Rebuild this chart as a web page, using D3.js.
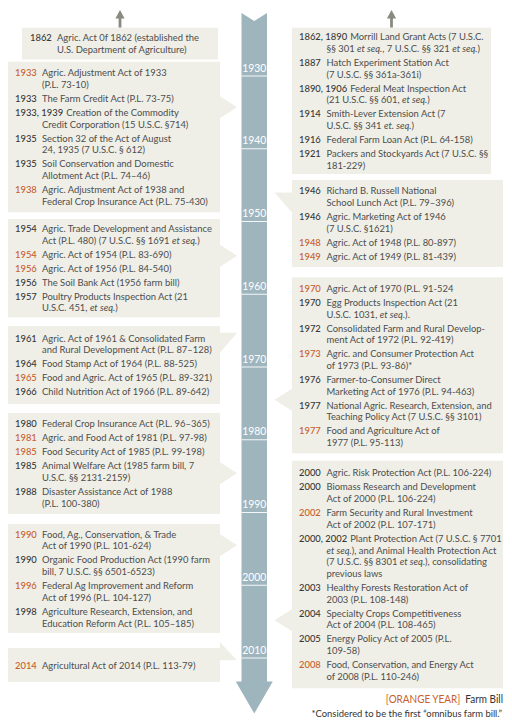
<!DOCTYPE html>
<html><head><meta charset="utf-8">
<script src="https://cdn.jsdelivr.net/npm/d3@7"></script>
<style>html,body{margin:0;padding:0;background:#fff;} svg{display:block;}</style>
</head><body>
<svg id="c" width="512" height="728"></svg>
<script>
// ---------------- DATA ----------------
const decades = [1930, 1940, 1950, 1960, 1970, 1980, 1990, 2000, 2010];

const leftBox1 = [
  {year: "1862", farmBill: false, lines: ["Agric. Act 0f 1862 (established the", "U.S. Department of Agriculture)"]}
];
const leftBox2 = [
  {year: "1933", farmBill: true,  lines: ["Agric. Adjustment Act of 1933", "(P.L. 73-10)"]},
  {year: "1933", farmBill: false, lines: ["The Farm Credit Act (P.L. 73-75)"]},
  {year: "1933, 1939", farmBill: false, lines: ["Creation of the Commodity", "Credit Corporation (15 U.S.C. §714)"]},
  {year: "1935", farmBill: false, lines: ["Section 32 of the Act of August", "24, 1935 (7 U.S.C. § 612)"]},
  {year: "1935", farmBill: false, lines: ["Soil Conservation and Domestic", "Allotment Act (P.L. 74–46)"]},
  {year: "1938", farmBill: true,  lines: ["Agric. Adjustment Act of 1938 and", "Federal Crop Insurance Act (P.L. 75-430)"]}
];
const leftBox3 = [
  {year: "1954", farmBill: false, lines: ["Agric. Trade Development and Assistance", "Act (P.L. 480) (7 U.S.C. §§ 1691 _et seq._)"]},
  {year: "1954", farmBill: true,  lines: ["Agric. Act of 1954 (P.L. 83-690)"]},
  {year: "1956", farmBill: true,  lines: ["Agric. Act of 1956 (P.L. 84-540)"]},
  {year: "1956", farmBill: false, lines: ["The Soil Bank Act (1956 farm bill)"]},
  {year: "1957", farmBill: false, lines: ["Poultry Products Inspection Act (21", "U.S.C. 451, _et seq._)"]}
];
const leftBox4 = [
  {year: "1961", farmBill: false, lines: ["Agric. Act of 1961 & Consolidated Farm", "and Rural Development Act (P.L. 87–128)"]},
  {year: "1964", farmBill: false, lines: ["Food Stamp Act of 1964 (P.L. 88-525)"]},
  {year: "1965", farmBill: true,  lines: ["Food and Agric. Act of 1965 (P.L. 89-321)"]},
  {year: "1966", farmBill: false, lines: ["Child Nutrition Act of 1966 (P.L. 89-642)"]}
];
const leftBox5 = [
  {year: "1980", farmBill: false, lines: ["Federal Crop Insurance Act (P.L. 96–365)"]},
  {year: "1981", farmBill: true,  lines: ["Agric. and Food Act of 1981 (P.L. 97-98)"]},
  {year: "1985", farmBill: true,  lines: ["Food Security Act of 1985 (P.L. 99-198)"]},
  {year: "1985", farmBill: false, lines: ["Animal Welfare Act (1985 farm bill, 7", "U.S.C. §§ 2131-2159)"]},
  {year: "1988", farmBill: false, lines: ["Disaster Assistance Act of 1988", "(P.L. 100-380)"]}
];
const leftBox6 = [
  {year: "1990", farmBill: true,  lines: ["Food, Ag., Conservation, & Trade", "Act of 1990 (P.L. 101-624)"]},
  {year: "1990", farmBill: false, lines: ["Organic Food Production Act (1990 farm", "bill, 7 U.S.C. §§ 6501-6523)"]},
  {year: "1996", farmBill: true,  lines: ["Federal Ag Improvement and Reform", "Act of 1996 (P.L. 104-127)"]},
  {year: "1998", farmBill: false, lines: ["Agriculture Research, Extension, and", "Education Reform Act (P.L. 105–185)"]}
];
const leftBox7 = [
  {year: "2014", farmBill: true,  lines: ["Agricultural Act of 2014 (P.L. 113-79)"]}
];

const rightBox1 = [
  {year: "1862, 1890", farmBill: false, lines: ["Morrill Land Grant Acts (7 U.S.C.", "§§ 301 _et seq._, 7 U.S.C. §§ 321 _et seq._)"]},
  {year: "1887", farmBill: false, lines: ["Hatch Experiment Station Act", "(7 U.S.C. §§ 361a-361i)"]},
  {year: "1890, 1906", farmBill: false, lines: ["Federal Meat Inspection Act", "(21 U.S.C. §§ 601, _et seq._)"]},
  {year: "1914", farmBill: false, lines: ["Smith-Lever Extension Act (7", "U.S.C. §§ 341 _et. seq._)"]},
  {year: "1916", farmBill: false, lines: ["Federal Farm Loan Act (P.L. 64-158)"]},
  {year: "1921", farmBill: false, lines: ["Packers and Stockyards Act (7 U.S.C. §§", "181-229)"]}
];
const rightBox2 = [
  {year: "1946", farmBill: false, lines: ["Richard B. Russell National", "School Lunch Act (P.L. 79–396)"]},
  {year: "1946", farmBill: false, lines: ["Agric. Marketing Act of 1946", "(7 U.S.C. §1621)"]},
  {year: "1948", farmBill: true,  lines: ["Agric. Act of 1948 (P.L. 80-897)"]},
  {year: "1949", farmBill: true,  lines: ["Agric. Act of 1949 (P.L. 81-439)"]}
];
const rightBox3 = [
  {year: "1970", farmBill: true,  lines: ["Agric. Act of 1970 (P.L. 91-524"]},
  {year: "1970", farmBill: false, lines: ["Egg Products Inspection Act (21", "U.S.C. 1031, _et seq._)."]},
  {year: "1972", farmBill: false, lines: ["Consolidated Farm and Rural Develop-", "ment Act of 1972 (P.L. 92-419)"]},
  {year: "1973", farmBill: true,  lines: ["Agric. and Consumer Protection Act", "of 1973 (P.L. 93-86)*"]},
  {year: "1976", farmBill: false, lines: ["Farmer-to-Consumer Direct", "Marketing Act of 1976 (P.L. 94-463)"]},
  {year: "1977", farmBill: false, lines: ["National Agric. Research, Extension, and", "Teaching Policy Act (7 U.S.C. §§ 3101)"]},
  {year: "1977", farmBill: true,  lines: ["Food and Agriculture Act of", "1977 (P.L. 95-113)"]}
];
const rightBox4 = [
  {year: "2000", farmBill: false, lines: ["Agric. Risk Protection Act (P.L. 106-224)"]},
  {year: "2000", farmBill: false, lines: ["Biomass Research and Development", "Act of 2000 (P.L. 106-224)"]},
  {year: "2002", farmBill: true,  lines: ["Farm Security and Rural Investment", "Act of 2002 (P.L. 107-171)"]},
  {year: "2000, 2002", farmBill: false, lines: ["Plant Protection Act (7 U.S.C. § 7701", "_et seq._), and Animal Health Protection Act", "(7 U.S.C. §§ 8301 _et seq._), consolidating", "previous laws"]},
  {year: "2003", farmBill: false, lines: ["Healthy Forests Restoration Act of", "2003 (P.L. 108-148)"]},
  {year: "2004", farmBill: false, lines: ["Specialty Crops Competitiveness", "Act of 2004 (P.L. 108-465)"]},
  {year: "2005", farmBill: false, lines: ["Energy Policy Act of 2005 (P.L.", "109-58)"]},
  {year: "2008", farmBill: true,  lines: ["Food, Conservation, and Energy Act", "of 2008 (P.L. 110-246)"]}
];

const legendKey = "[ORANGE YEAR]";
const legendLabel = "Farm Bill";
const footnote = "*Considered to be the first “omnibus farm bill.”";

// ---------------- LAYOUT ----------------
const leftFrames = [
  {x0: 22, x1: 218, top: 27.7, bottom: 59.5, yearX: 30, descX: 57, ptr: null, items: leftBox1},
  {x0: 8, x1: 220, top: 61.7, bottom: 212.3, yearX: 15, descX: 42, ptr: {at: 1934.3, shape: "mid"}, items: leftBox2},
  {x0: 8, x1: 220, top: 219, bottom: 317.3, yearX: 15, descX: 42, ptr: {at: 1954.7, shape: "mid"}, items: leftBox3},
  {x0: 8, x1: 220, top: 326, bottom: 404, yearX: 15, descX: 42, ptr: {at: 1965.3, shape: "top"}, items: leftBox4},
  {x0: 8, x1: 220, top: 413, bottom: 514, yearX: 15, descX: 42, ptr: {at: 1984.6, shape: "mid"}, items: leftBox5},
  {x0: 8, x1: 220, top: 524, bottom: 633, yearX: 15, descX: 42, ptr: {at: 1994.5, shape: "mid"}, items: leftBox6},
  {x0: 8, x1: 220, top: 648, bottom: 682, yearX: 15, descX: 42, ptr: {at: 2010.3, shape: "bottom"}, items: leftBox7}
];
const rightFrames = [
  {x0: 292, x1: 491, top: 27.7, bottom: 174, yearX: 299, descX: 326.5, ptr: null, items: rightBox1},
  {x0: 292, x1: 503, top: 180, bottom: 267, yearX: 299, descX: 326.5, ptr: {at: 1946, shape: "top"}, items: rightBox2},
  {x0: 292, x1: 503, top: 277.3, bottom: 453.3, yearX: 299, descX: 326.5, ptr: {at: 1974.5, shape: "mid"}, items: rightBox3},
  {x0: 292, x1: 503, top: 460.7, bottom: 688.3, yearX: 299, descX: 326.5, ptr: {at: 2004.8, shape: "mid"}, items: rightBox4}
];

const BOX = "#efefe7", BAR = "#9fb5bd", ORANGE = "#c8602c", YEARC = "#383838", DESCC = "#4d4d4d", ARROWC = "#8a8a82";
const FONT = "Lato, 'Open Sans', 'Liberation Sans', sans-serif";
const FS = 10.4, LH = 11.7, GAP = 2.3;

const svg = d3.select("#c");
const timeline = d3.scaleLinear().domain([1930, 2010]).range([76, 658]);

// calibrate horizontal condensing to match the reference's narrow face
const probe = svg.append("text").attr("font-family", FONT).attr("font-size", FS)
  .text("Agric. Trade Development and Assistance");
const SX = Math.min(1, 170 / probe.node().getComputedTextLength());
probe.remove();

function richText(g, str, x, y, opts) {
  const t = g.append("text")
    .attr("transform", `translate(${x},${y}) scale(${SX},1)`)
    .attr("font-family", FONT).attr("font-size", opts.size || FS)
    .attr("font-weight", opts.weight || 400)
    .attr("fill", opts.fill)
    .attr("text-anchor", opts.anchor || "start");
  str.split("_").forEach((seg, i) => {
    if (!seg) return;
    t.append("tspan").attr("font-style", i % 2 ? "italic" : "normal").text(seg);
  });
  return t;
}

// ---------------- TIMELINE BAR ----------------
const bx0 = 241.5, bx1 = 267, bxm = (bx0 + bx1) / 2;
const barTop = 13, notch = 21, headTop = 681.5, headTip = 713.5, headHalf = 18.5;
svg.append("path")
  .attr("d", d3.line()([
    [bx0, barTop], [bxm, notch], [bx1, barTop], [bx1, headTop], [bxm + headHalf, headTop],
    [bxm, headTip], [bxm - headHalf, headTop], [bx0, headTop]
  ]) + "Z")
  .attr("fill", BAR);

const axisG = svg.append("g");
axisG.selectAll("line").data(decades).join("line")
  .attr("x1", bx0).attr("x2", bx1)
  .attr("y1", d => timeline(d)).attr("y2", d => timeline(d))
  .attr("stroke", "#f4f7f8").attr("stroke-width", 1);
axisG.selectAll("text").data(decades).join("text")
  .attr("transform", d => `translate(${bxm},${timeline(d) - 4.3}) scale(${SX},1)`)
  .attr("text-anchor", "middle").attr("font-family", FONT).attr("font-size", 11.5)
  .attr("fill", "#ffffff").text(d => d);

// ---------------- UP ARROWS ----------------
function upArrow(x, y0, y1) {
  svg.append("rect").attr("x", x - 1.4).attr("y", y0 + 7).attr("width", 2.8).attr("height", y1 - y0 - 7).attr("fill", ARROWC);
  svg.append("path").attr("d", d3.line()([[x - 4.6, y0 + 8.5], [x, y0], [x + 4.6, y0 + 8.5]]) + "Z").attr("fill", ARROWC);
}
upArrow(120, 10, 27.7);
upArrow(391.5, 10, 27.7);

// ---------------- BOXES ----------------
function drawBox(f, side) {
  const g = svg.append("g");
  g.append("rect").attr("x", f.x0).attr("y", f.top).attr("width", f.x1 - f.x0).attr("height", f.bottom - f.top).attr("fill", BOX);
  if (f.ptr) {
    const ty = timeline(f.ptr.at);
    const edge = side === "left" ? f.x1 : f.x0;
    const tipX = side === "left" ? 237 : 274.5;
    let a, b;
    if (f.ptr.shape === "mid") { a = ty - 11; b = ty + 11; }
    else if (f.ptr.shape === "top") { a = ty; b = ty + 20; }
    else { a = ty - 18; b = ty; }
    g.append("path").attr("d", d3.line()([[edge, a], [tipX, ty], [edge, b]]) + "Z").attr("fill", BOX);
  }
  const nLines = d3.sum(f.items, e => e.lines.length);
  const block = (nLines - 1) * LH + (f.items.length - 1) * GAP;
  let y = (f.top + f.bottom) / 2 - block / 2 + 3.6;
  f.items.forEach(e => {
    const yt = richText(g, e.year, f.yearX, y, {fill: e.farmBill ? ORANGE : YEARC, weight: 500});
    const yw = yt.node().getComputedTextLength() * SX;
    e.lines.forEach((ln, i) => {
      let x = f.descX;
      if (i === 0 && f.yearX + yw + 3 > f.descX) x = f.yearX + yw + 3;
      richText(g, ln, x, y, {fill: DESCC});
      y += LH;
    });
    y += GAP;
  });
}
leftFrames.forEach(f => drawBox(f, "left"));
rightFrames.forEach(f => drawBox(f, "right"));

// ---------------- LEGEND ----------------
const lab = richText(svg, legendLabel, 503, 702.7, {fill: "#333", anchor: "end", size: 11});
const lw = lab.node().getComputedTextLength() * SX;
richText(svg, legendKey, 503 - lw - 5, 702.7, {fill: ORANGE, anchor: "end", size: 11});
richText(svg, footnote, 502, 716.7, {fill: "#333", anchor: "end", size: 10.4});
</script>
</body></html>
